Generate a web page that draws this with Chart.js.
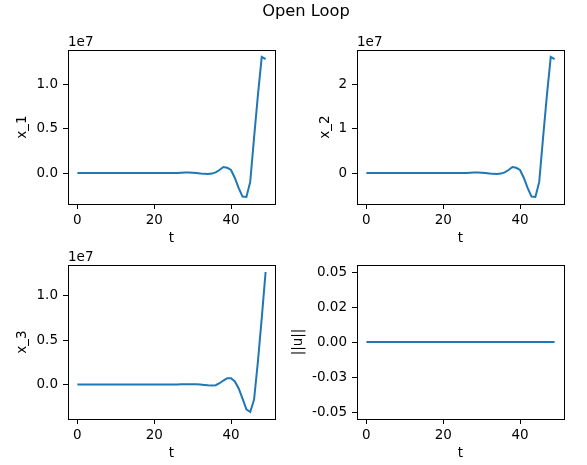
<!DOCTYPE html>
<html>
<head>
<meta charset="utf-8">
<script src="https://cdn.jsdelivr.net/npm/chart.js@4.4.1/dist/chart.umd.min.js"></script>
<style>
  html, body { margin: 0; padding: 0; background: #fff; }
  #wrap { position: relative; width: 587px; height: 465px; }
  #wrap canvas { position: absolute; left: 0; top: 0; }
</style>
</head>
<body>
<div id="wrap">
  <canvas id="c1" width="587" height="465"></canvas>
  <canvas id="c2" width="587" height="465"></canvas>
  <canvas id="c3" width="587" height="465"></canvas>
  <canvas id="c4" width="587" height="465"></canvas>
</div>
<script>
// time steps
const t = [0, 1, 2, 3, 4, 5, 6, 7, 8, 9, 10, 11, 12, 13, 14, 15, 16, 17, 18, 19,
  20, 21, 22, 23, 24, 25, 26, 27, 28, 29, 30, 31, 32, 33, 34, 35, 36, 37, 38, 39,
  40, 41, 42, 43, 44, 45, 46, 47, 48, 49];

// states
const x1 = [0, 0, 0, 0, 0, 0, 0, 0, 0, 0, 0, 0, 0, 0, 0, 0, 0, 0, 0, 0,
  0, 0, 0, -1000, -2000, -1000, 20000, 50000, 70000, 70000,
  50000, 10000, -40000, -90000, -100000, -60000, 80000, 350000, 680000, 600000,
  350000, -550000, -1700000, -2650000, -2700000, -1000000, 4000000, 8800000, 13100000, 12850000];

const x2 = [0, 0, 0, 0, 0, 0, 0, 0, 0, 0, 0, 0, 0, 0, 0, 0, 0, 0, 0, 0,
  0, 0, 0, -2000, -4000, -2000, 40000, 100000, 140000, 140000,
  100000, 20000, -80000, -180000, -200000, -120000, 160000, 700000, 1360000, 1200000,
  700000, -1100000, -3400000, -5300000, -5400000, -2000000, 8000000, 17600000, 26200000, 25700000];

const x3 = [0, 0, 0, 0, 0, 0, 0, 0, 0, 0, 0, 0, 0, 0, 0, 0, 0, 0, 0, 0,
  0, 0, 0, 0, -1000, 0, 10000, 20000, 30000, 40000,
  40000, 30000, 0, -40000, -80000, -100000, -80000, 150000, 450000, 720000,
  720000, 350000, -450000, -1600000, -2800000, -3100000, -1700000, 2600000, 7500000, 12700000];

const u = [0, 0, 0, 0, 0, 0, 0, 0, 0, 0, 0, 0, 0, 0, 0, 0, 0, 0, 0, 0,
  0, 0, 0, 0, 0, 0, 0, 0, 0, 0, 0, 0, 0, 0, 0, 0, 0, 0, 0, 0,
  0, 0, 0, 0, 0, 0, 0, 0, 0, 0];

// tick values and labels
const tTicks = [0, 20, 40];
const x1Ticks = [0, 5000000, 10000000];
const x1TickLabels = ["0.0", "0.5", "1.0"];
const x2Ticks = [0, 10000000, 20000000];
const x2TickLabels = ["0", "1", "2"];
const x3Ticks = [0, 5000000, 10000000];
const x3TickLabels = ["0.0", "0.5", "1.0"];
const uTicks = [-0.05, -0.025, 0, 0.025, 0.05];
const uTickLabels = ["-0.05", "-0.03", "0.00", "0.02", "0.05"];

const FONT = "DejaVu Sans";
const W = 587, H = 465;

// frame, offset text and figure title
const framePlugin = {
  id: "frame",
  afterDraw(chart, args, opts) {
    const { ctx, chartArea: a } = chart;
    ctx.save();
    ctx.strokeStyle = "#000";
    ctx.lineWidth = 1;
    ctx.strokeRect(Math.round(a.left) + 0.5, Math.round(a.top) + 0.5,
      Math.round(a.right - a.left), Math.round(a.bottom - a.top));
    ctx.fillStyle = "#000";
    if (opts.offset) {
      ctx.font = "13.5px '" + FONT + "'";
      ctx.textAlign = "left";
      ctx.textBaseline = "alphabetic";
      ctx.fillText(opts.offset, a.left, a.top - 4);
    }
    if (opts.suptitle) {
      ctx.font = "16.3px '" + FONT + "'";
      ctx.textAlign = "center";
      ctx.textBaseline = "alphabetic";
      ctx.fillText(opts.suptitle, 306, 16);
    }
    ctx.restore();
  },
};

function limits(vals) {
  const lo = Math.min(...vals), hi = Math.max(...vals);
  if (lo === hi) return [lo - 0.055, hi + 0.055];
  const m = (hi - lo) * 0.05;
  return [lo - m, hi + m];
}

function makePlot(id, box, vals, yTicks, yLabels, yTitle, offset, suptitle) {
  const [ymin, ymax] = limits(vals);
  const [tmin, tmax] = limits(t);
  const tickFont = { family: FONT, size: 13.5 };
  new Chart(document.getElementById(id), {
    type: "line",
    data: {
      datasets: [{
        data: t.map((v, i) => ({ x: v, y: vals[i] })),
        borderColor: "#1f77b4",
        borderWidth: 2,
        pointRadius: 0,
        tension: 0,
        fill: false,
      }],
    },
    options: {
      responsive: false,
      animation: false,
      layout: {
        padding: { left: box.padL, top: box.top, right: W - box.right, bottom: box.padB },
      },
      plugins: {
        legend: { display: false },
        tooltip: { enabled: false },
        frame: { offset: offset, suptitle: suptitle },
      },
      scales: {
        x: {
          type: "linear",
          min: tmin,
          max: tmax,
          afterBuildTicks: (s) => { s.ticks = tTicks.map((v) => ({ value: v })); },
          afterFit: (s) => { s.height = box.xH; },
          ticks: { color: "#000", font: tickFont, padding: 3, maxRotation: 0, autoSkip: false },
          grid: { drawOnChartArea: false, drawTicks: true, tickLength: 5, color: "#000" },
          border: { display: false },
          title: { display: true, text: "t", color: "#000", font: tickFont, padding: 0 },
        },
        y: {
          type: "linear",
          min: ymin,
          max: ymax,
          afterBuildTicks: (s) => { s.ticks = yTicks.map((v) => ({ value: v })); },
          afterFit: (s) => { s.width = box.left - box.padL; },
          ticks: {
            color: "#000", font: tickFont, padding: 5, autoSkip: false,
            callback: (v, i) => yLabels[i],
          },
          grid: { drawOnChartArea: false, drawTicks: true, tickLength: 5, color: "#000" },
          border: { display: false },
          title: { display: true, text: yTitle, color: "#000", font: tickFont, padding: 0 },
        },
      },
    },
    plugins: [framePlugin],
  });
}

// axes boxes: left/right/top/bottom of the plot area, padL = y-title edge, xH = x-axis height
const top1 = { left: 68, right: 275, top: 50, padL: 14, xH: 43, padB: H - 247 };
const top2 = { left: 357, right: 564, top: 50, padL: 317, xH: 43, padB: H - 247 };
const bot1 = { left: 68, right: 275, top: 265, padL: 14, xH: 43, padB: H - 462 };
const bot2 = { left: 357, right: 564, top: 265, padL: 290, xH: 43, padB: H - 462 };

makePlot("c1", top1, x1, x1Ticks, x1TickLabels, "x_1", "1e7", "Open Loop");
makePlot("c2", top2, x2, x2Ticks, x2TickLabels, "x_2", "1e7");
makePlot("c3", bot1, x3, x3Ticks, x3TickLabels, "x_3", "1e7");
makePlot("c4", bot2, u, uTicks, uTickLabels, "||u||");
</script>
</body>
</html>
